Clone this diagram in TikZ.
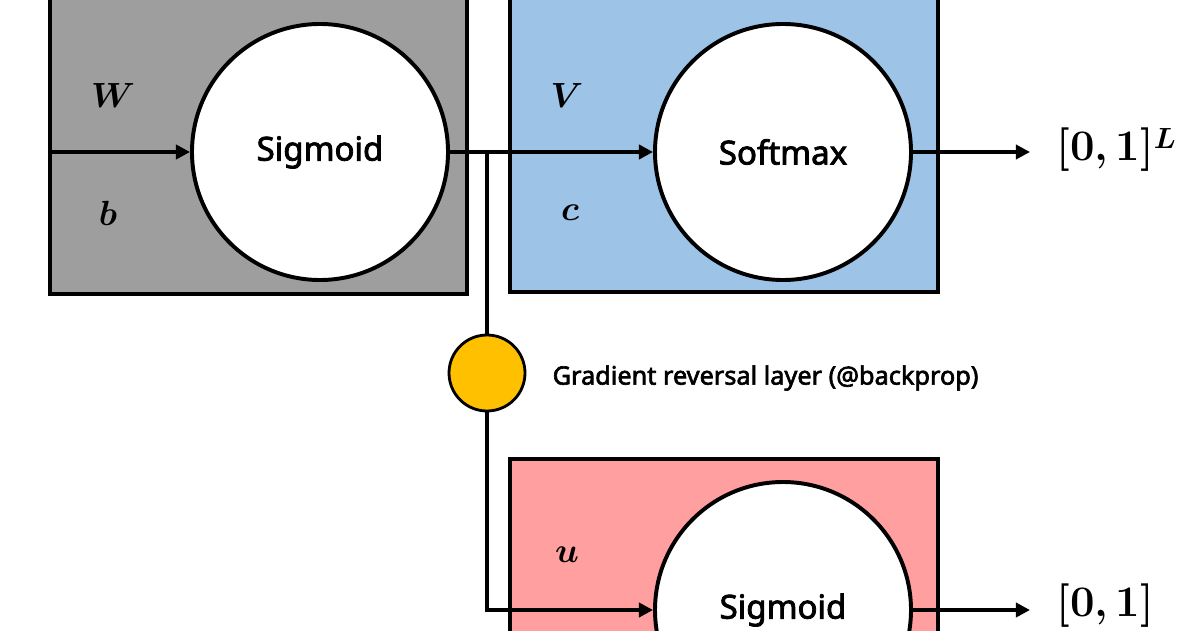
\documentclass[tikz,border=0pt]{standalone}
\usepackage{amsmath,bm}
\usepackage{fontspec}
\newfontfamily\lblfont{Noto Sans}[FakeBold=2.5]
\usetikzlibrary{arrows.meta}
\definecolor{gbox}{HTML}{9E9E9E}
\definecolor{bbox}{HTML}{9DC3E6}
\definecolor{pbox}{HTML}{FF9F9F}
\definecolor{ydot}{HTML}{FFC000}
\begin{document}
\begin{tikzpicture}[x=0.025cm,y=-0.025cm,line width=2.8pt,
  unit/.style={circle,draw=black,fill=white,minimum size=256*0.025cm,inner sep=0pt,font=\lblfont\fontsize{23.5}{28}\selectfont},
  arr/.style={-{Triangle[length=10pt,width=10pt]}},
  lab/.style={font=\fontsize{31}{36}\selectfont}]
\useasboundingbox (0,0) rectangle (1200,630);
\begin{scope}
\clip (0,0) rectangle (1200,630);
\fill[gbox] (50,-10) rectangle (467,294); \draw (50,-10) rectangle (467,294);
\fill[bbox] (510,-10) rectangle (938,292); \draw (510,-10) rectangle (938,292);
\fill[pbox] (510,459) rectangle (938,660); \draw (510,459) rectangle (938,660);
\node[unit] (s1) at (320,152) {Sigmoid};
\node[unit] (sm) at (783,152) {Softmax};
\node[unit] (s2) at (783,610) {Sigmoid};
\coordinate (in) at (50,152);
\draw[arr] (in) -- (s1.west);
\node[circle,draw,fill=ydot,minimum size=76*0.025cm,inner sep=0pt,line width=2pt] (g) at (487,373) {};
\coordinate (j) at (487,152);
\draw[arr] (s1.east) -- (sm.west);
\draw (j) -- (g.north);
\draw[arr] (g.south) |- (s2.west);
\coordinate (o1) at (1030,152);
\coordinate (o2) at (1030,610);
\draw[arr] (sm.east) -- (o1);
\draw[arr] (s2.east) -- (o2);
\end{scope}
\node[lab,anchor=west] (l1) at (1050,150) {\textbf{[0,\,1]}$^{\bm{L}}$};
\node[lab,anchor=west] (l2) at (1050,606) {\textbf{[0,\,1]}};
\node[lab] (w) at (113,95) {$\bm{W}$};
\node[lab] (b) at (108,213) {$\bm{b}$};
\node[lab] (v) at (567,95) {$\bm{V}$};
\node[lab] (c) at (570,213) {$\bm{c}$};
\node[lab] (u) at (567,555) {$\bm{u}$};
\node[anchor=west,font=\lblfont\fontsize{18}{21}\selectfont] (gt) at (546,378) {Gradient reversal layer (@backprop)};
\end{tikzpicture}
\end{document}
